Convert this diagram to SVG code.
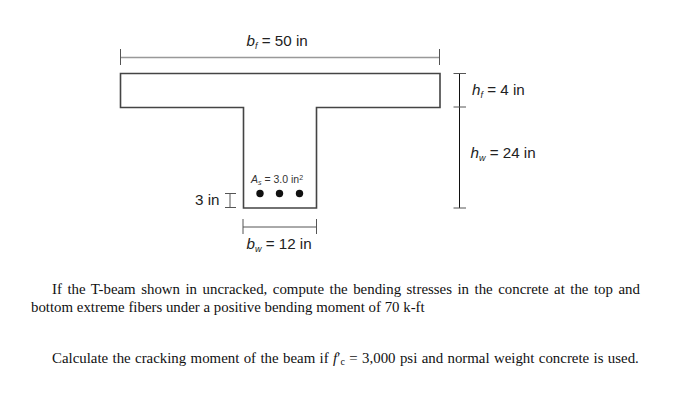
<svg xmlns="http://www.w3.org/2000/svg" width="674" height="417" viewBox="0 0 674 417">
<style>
.s{font-family:"Liberation Sans",Arial,sans-serif;font-size:15.2px;fill:#222}
.m{font-family:"Liberation Sans",Arial,sans-serif;font-size:10.5px;fill:#333}
.i{font-style:italic}
.sub{font-size:9px;font-style:italic}
.t{font-family:"Liberation Serif","Times New Roman",serif;font-size:14.86px;fill:#111}
.b{fill:none;stroke:#444;stroke-width:1.6}
.d{fill:none;stroke:#555;stroke-width:1}
.g{fill:none;stroke:#999;stroke-width:1.6}
.k{fill:none;stroke:#111;stroke-width:1}
</style>
<rect width="674" height="417" fill="#fff"/>
<g id="beam">
<path class="b" d="M120.5 73.5H440V107.5H316.5V208H243.5V107.5H120.5Z"/>
</g>
<g id="bars" fill="#111">
<circle cx="260" cy="193.5" r="3.7"/>
<circle cx="279.500" cy="193.500" r="3.700"/>
<circle cx="299.500" cy="193.500" r="3.700"/>
</g>
<g id="connectors">
<path class="g" d="M120.500 57.500H439.500"/>
<path class="d" d="M120.500 49V65M439.500 49V65"/>
<path class="k" d="M459.500 73.500V208"/>
<path class="d" d="M453.500 73.500H466M453.500 107H466M453.500 208H466"/>
<path class="d" d="M243 227H316.500M243 219V234M316.500 219V234"/>
<path class="d" d="M230 193.500V207M225 193.500H236M225 207.500H236"/>
</g>
<g id="label-bf"><text class="s" x="246.500" y="46"><tspan class="i">b</tspan><tspan class="sub" dy="3">f</tspan><tspan dy="-3"> = 50 in</tspan></text></g>
<g id="label-hf"><text class="s" x="472" y="95"><tspan class="i">h</tspan><tspan class="sub" dy="3">f</tspan><tspan dy="-3"> = 4 in</tspan></text></g>
<g id="label-hw"><text class="s" x="470.500" y="158"><tspan class="i">h</tspan><tspan class="sub" dy="3">w</tspan><tspan dy="-3"> = 24 in</tspan></text></g>
<g id="label-as"><text class="m" x="251" y="183"><tspan class="i">A</tspan><tspan font-size="7" font-style="italic" dy="2">s</tspan><tspan dy="-2"> = 3.0 in</tspan><tspan font-size="7" dy="-3">2</tspan></text></g>
<g id="label-3in"><text class="s" x="195" y="205">3 in</text></g>
<g id="label-bw"><text class="s" x="246.500" y="249"><tspan class="i">b</tspan><tspan class="sub" dy="3">w</tspan><tspan dy="-3"> = 12 in</tspan></text></g>
<g id="text">
<text class="t" x="52" y="294" word-spacing="1.8">If the T-beam shown in uncracked, compute the bending stresses in the concrete at the top and</text>
<text class="t" x="31" y="312">bottom extreme fibers under a positive bending moment of 70 k-ft</text>
<text class="t" x="52" y="363" word-spacing="0.68">Calculate the cracking moment of the beam if <tspan font-style="italic">f</tspan>′<tspan font-size="10" dy="2">c</tspan><tspan dy="-2"> = 3,000 psi and normal weight concrete is used.</tspan></text>
</g>
</svg>
